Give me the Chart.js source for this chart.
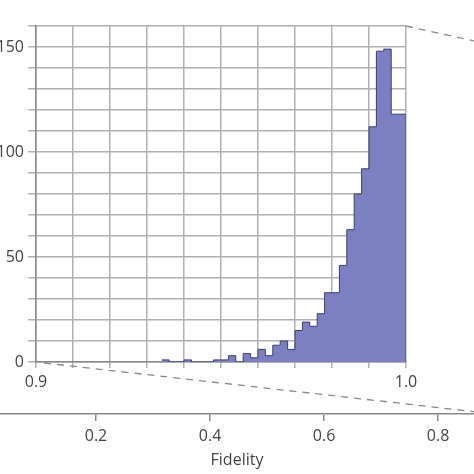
<!DOCTYPE html>
<html><head><meta charset="utf-8">
<script src="https://cdn.jsdelivr.net/npm/chart.js@4"></script>
<style>html,body{margin:0;padding:0;background:#fff}
canvas{position:absolute;left:0;top:0}</style></head>
<body>
<div style="position:absolute;left:0;top:0;width:474px;height:474px"><canvas id="c1" width="474" height="474"></canvas></div>
<div style="position:absolute;left:0;top:0;width:474px;height:474px"><canvas id="c2" width="474" height="474"></canvas></div>
<script>
const binStarts = [0.934,0.936,0.938,0.940,0.942,0.944,0.946,0.948,0.950,0.952,0.954,0.956,0.958,0.960,0.962,0.964,0.966,0.968,0.970,0.972,0.974,0.976,0.978,0.980,0.982,0.984,0.986,0.988,0.990,0.992,0.994,0.996,0.998];
const counts = [1,1,0,0,1,0,0,0,1,1,3,0,4,2,6,3,8,10,6,15,19,17,23,33,33,46,63,80,92,112,148,149,118];
const insetTicks = [0, 50, 100, 150];
const insetXLabels = [0.9, 1.0];
const outerTicks = [0.2, 0.4, 0.6, 0.8];
const xLabel = 'Fidelity';

const pts = binStarts.map((x,i)=>({x, y:counts[i]}));
pts.push({x:1.0, y:counts[counts.length-1]});
pts.push({x:1.0, y:0});
const font = {family:'"Open Sans", sans-serif', size:16};
const txt = '#444';

const c1 = new Chart(document.getElementById('c1'), {
  type:'line',
  data:{datasets:[{data:pts, stepped:'after', fill:'origin', backgroundColor:'#7c80c2', borderColor:'#3b3f6e', borderWidth:1, pointRadius:0}]},
  options:{responsive:false, animation:false, events:[],
    layout:{padding:{top:26,right:68,left:0,bottom:0}},
    plugins:{legend:{display:false},tooltip:{enabled:false}},
    scales:{
      x:{type:'linear', min:0.9, max:1.0,
        afterFit:s=>{s.height=112;},
        afterBuildTicks:s=>{const t=[];for(let i=0;i<=10;i++)t.push({value:+(0.9+i*0.01).toFixed(2)});s.ticks=t;},
        grid:{color:'#b0b0b0', lineWidth:1.5, tickLength:6, drawTicks:true},
        border:{color:'#888', width:1.5},
        ticks:{color:txt, font, padding:5, autoSkip:false, maxRotation:0,
          callback:v=>insetXLabels.some(l=>Math.abs(l-v)<1e-6)?v.toFixed(1):''}},
      y:{min:0, max:160,
        afterFit:s=>{s.width=36;},
        afterBuildTicks:s=>{const t=[];for(let v=0;v<=160;v+=10)t.push({value:v});s.ticks=t;},
        grid:{color:'#b0b0b0', lineWidth:1.5, tickLength:8},
        border:{color:'#888', width:1.5},
        ticks:{color:txt, font, padding:4, autoSkip:false,
          callback:v=>insetTicks.includes(v)?String(v):''}}
    }}
});

const dashPlugin = {id:'dash', afterDraw(ch){
  const ctx=ch.ctx, a=c1.chartArea, xs=c1.scales.x, xo=ch.scales.x;
  ctx.save(); ctx.setLineDash([7,6]); ctx.strokeStyle='#888'; ctx.lineWidth=1.3;
  ctx.beginPath(); ctx.moveTo(xs.getPixelForValue(0.9)+8, a.bottom+1); ctx.lineTo(xo.getPixelForValue(0.9), ch.chartArea.bottom); ctx.stroke();
  ctx.beginPath(); ctx.moveTo(xs.getPixelForValue(1.0), a.top); ctx.lineTo(xo.getPixelForValue(1.0), a.top+32); ctx.stroke();
  ctx.restore();
}};

new Chart(document.getElementById('c2'), {
  type:'line',
  data:{datasets:[{data:[]}]},
  plugins:[dashPlugin],
  options:{responsive:false, animation:false, events:[],
    layout:{padding:{top:404,right:0,left:0,bottom:0}},
    plugins:{legend:{display:false},tooltip:{enabled:false}},
    scales:{
      x:{type:'linear', min:0.0316, max:0.863,
        afterFit:s=>{s.height=60;},
        afterBuildTicks:s=>{s.ticks=outerTicks.map(v=>({value:v}));},
        grid:{drawOnChartArea:false, color:'#888', lineWidth:1.5, tickLength:7},
        border:{color:'#888', width:1.5},
        ticks:{color:txt, font, padding:6, maxRotation:0, callback:v=>v.toFixed(1)},
        title:{display:true, text:xLabel, color:txt, font, padding:{top:4}}},
      y:{display:false, min:0, max:1}
    }}
});
</script></body></html>
